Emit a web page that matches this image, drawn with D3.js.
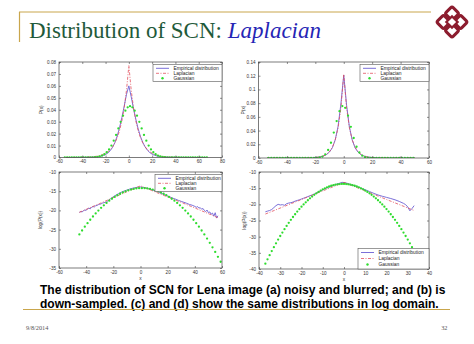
<!DOCTYPE html>
<html><head><meta charset="utf-8">
<script src="https://cdn.jsdelivr.net/npm/d3@7"></script>
<style>body{margin:0;background:#fff}svg{display:block}</style>
</head><body>
<svg id="c" width="474" height="344"></svg>
<script>
// ---------------- DATA ----------------
const titleMain = "Distribution of SCN: ";
const titleItalic = "Laplacian";
const captionLines = [
  "The distribution of SCN for Lena image (a) noisy and blurred; and (b) is",
  "down-sampled. (c) and (d) show the same distributions in log domain."
];
const footerDate = "9/8/2014";
const footerPage = "32";
const legendLabels = ["Empirical distribution", "Laplacian", "Gaussian"];

// Panel (a): linear, noisy & blurred
const aXTicks = [-60,-40,-20,0,20,40,60,80];
const aYTicks = [0,0.01,0.02,0.03,0.04,0.05,0.06,0.07,0.08];
const aX = [-54,-52,-50,-48,-46,-44,-42,-40,-38,-36,-34,-32,-30,-28,-26,-24,-22,-20,-18,-16,-14,-12,-10,-8,-6,-4,-2,0,2,4,6,8,10,12,14,16,18,20,22,24,26,28,30,32,34,36,38,40,42,44,46,48,50,52,54,56,58,60,62,64,66];
const aEmp = [0.00001,0.00002,0.00003,0.00004,0.00005,0.00007,0.00009,0.00011,0.00014,0.00018,0.00023,0.0003,0.0004,0.00056,0.0008,0.00115,0.0017,0.0025,0.0038,0.0057,0.0085,0.0125,0.018,0.025,0.0335,0.043,0.053,0.060,0.051,0.041,0.032,0.024,0.0175,0.0125,0.0088,0.006,0.0041,0.0028,0.0019,0.0013,0.0009,0.00064,0.00046,0.00035,0.00027,0.00022,0.00018,0.00015,0.00012,0.0001,0.00008,0.00007,0.00006,0.00005,0.00004,0.00003,0.00002,0.00002,0.00001,0.00001,0];
const aLap = [0.00002,0.00003,0.00004,0.00005,0.00007,0.00009,0.00012,0.00016,0.00022,0.0003,0.00041,0.00056,0.00076,0.001,0.0014,0.0019,0.0026,0.0036,0.0048,0.0066,0.0089,0.0122,0.0165,0.0225,0.0306,0.0416,0.0566,0.077,0.0566,0.0416,0.0306,0.0225,0.0165,0.0122,0.0089,0.0066,0.0048,0.0036,0.0026,0.0019,0.0014,0.001,0.00076,0.00056,0.00041,0.0003,0.00022,0.00016,0.00012,0.00009,0.00007,0.00005,0.00004,0.00003,0.00002,0.00001,0.00001,0.00001,0,0,0];
const aGX = [-55,-53,-51,-49,-47,-45,-43,-41,-39,-37,-35,-33,-31,-29,-27,-25,-23,-21,-19,-17,-15,-13,-11,-9,-7,-5,-3,-1,1,3,5,7,9,11,13,15,17,19,21,23,25,27,29,31,33,35,37,39,41,43,45,47,49,51,53,55,57,59,61,63,65,67];
const aGauss = [0,0,0,0,0,0,0,0,0,0.00001,0.00003,0.00006,0.00013,0.00026,0.00049,0.00091,0.00161,0.00273,0.0044,0.00678,0.01,0.01407,0.01892,0.02432,0.02985,0.03503,0.03925,0.04203,0.043,0.04203,0.03925,0.03503,0.02985,0.02432,0.01892,0.01407,0.01,0.00678,0.0044,0.00273,0.00161,0.00091,0.00049,0.00026,0.00013,0.00006,0.00003,0.00001,0,0,0,0,0,0,0,0,0,0,0,0,0,0];

// Panel (b): linear, down-sampled
const bXTicks = [-60,-40,-20,0,20,40,60];
const bYTicks = [0,0.02,0.04,0.06,0.08,0.1,0.12,0.14];
const bX = [-54,-52,-50,-48,-46,-44,-42,-40,-38,-36,-34,-32,-30,-28,-26,-24,-22,-20,-18,-16,-14,-12,-10,-8,-6,-4,-2,0,2,4,6,8,10,12,14,16,18,20,22,24,26,28,30,32,34,36,38,40,42,44,46,48,50];
const bEmp = [0,0,0,0,0,0,0,0,0.00001,0.00002,0.00003,0.00005,0.00008,0.00013,0.0002,0.0003,0.00047,0.00075,0.0012,0.0019,0.0031,0.0052,0.0088,0.015,0.0265,0.046,0.079,0.121,0.077,0.045,0.026,0.0148,0.0087,0.0051,0.003,0.0018,0.0011,0.0007,0.00045,0.0003,0.0002,0.00013,0.00008,0.00004,0.00002,0,0,0,0,0,0,0,0];
const bLap = [0,0,0,0,0,0,0,0,0,0.00001,0.00002,0.00004,0.00006,0.0001,0.0002,0.0003,0.0004,0.0007,0.0012,0.002,0.0034,0.0056,0.0094,0.0157,0.0262,0.0438,0.073,0.122,0.073,0.0438,0.0262,0.0157,0.0094,0.0056,0.0034,0.002,0.0012,0.0007,0.0004,0.0003,0.0002,0.0001,0.00006,0.00004,0.00002,0.00001,0,0,0,0,0,0,0];
const bGX = [-53,-51,-49,-47,-45,-43,-41,-39,-37,-35,-33,-31,-29,-27,-25,-23,-21,-19,-17,-15,-13,-11,-9,-7,-5,-3,-1,1,3,5,7,9,11,13,15,17,19,21,23,25,27,29,31,33,35,37,39,41,43,45,47,49];
const bGauss = [0,0,0,0,0,0,0,0,0,0,0,0,0,0,0,0.00001,0.00006,0.00023,0.00074,0.00213,0.00535,0.01167,0.02226,0.0371,0.0539,0.0683,0.0757,0.0731,0.0617,0.0454,0.0292,0.0164,0.00803,0.00344,0.00128,0.00042,0.00012,0.00003,0.00001,0,0,0,0,0,0,0,0,0,0,0,0,0];

// Panel (c): log domain of (a)
const cXTicks = [-60,-40,-20,0,20,40,60];
const cYTicks = [-35,-30,-25,-20,-15,-10];
const cEmpX = [-45,-44,-43,-42,-41,-40,-39,-38,-37,-36,-35,-34,-33,-32,-31,-30,-29,-28,-27,-26,-25,-24,-22,-20,-18,-16,-14,-12,-10,-8,-6,-4,-2,0,2,4,6,8,10,12,14,16,18,20,22,24,26,28,30,32,34,36,38,40,41,42,43,44,45,46,47,48,49,50,51,52,53,54,55,56,57];
const cEmp = [-20.5,-20.3,-20.4,-20.1,-19.9,-20.0,-19.6,-19.4,-19.6,-19.2,-19.0,-19.1,-18.8,-18.7,-18.5,-18.4,-18.3,-18.1,-18.0,-17.9,-17.8,-17.5,-16.95,-16.45,-16.0,-15.6,-15.25,-14.95,-14.7,-14.45,-14.25,-14.1,-13.95,-13.9,-14.0,-14.15,-14.35,-14.55,-14.8,-15.05,-15.35,-15.65,-15.95,-16.25,-16.55,-16.85,-17.1,-17.4,-17.65,-17.9,-18.15,-18.45,-18.65,-18.95,-19.2,-19.0,-19.4,-19.3,-19.7,-19.5,-20.0,-20.3,-19.9,-20.6,-20.4,-21.0,-20.7,-21.5,-20.6,-22.0,-21.4];
const cLapX = [-45,-30,-15,0,15,30,45,57];
const cLap = [-20.5,-18.2,-15.9,-13.6,-15.8,-17.9,-20.1,-21.9];
const cGX = [-45,-43,-41,-39,-37,-35,-33,-31,-29,-27,-25,-23,-21,-19,-17,-15,-13,-11,-9,-7,-5,-3,-1,1,3,5,7,9,11,13,15,17,19,21,23,25,27,29,31,33,35,37,39,41,43,45,47,49,51,53,55,57,59];
const cGauss = [-26.26,-25.24,-24.25,-23.32,-22.43,-21.59,-20.79,-20.04,-19.33,-18.67,-18.05,-17.48,-16.96,-16.48,-16.05,-15.66,-15.32,-15.02,-14.77,-14.57,-14.41,-14.29,-14.22,-14.2,-14.22,-14.29,-14.41,-14.57,-14.77,-15.02,-15.32,-15.66,-16.05,-16.48,-16.96,-17.48,-18.05,-18.67,-19.33,-20.04,-20.79,-21.59,-22.43,-23.32,-24.25,-25.24,-26.26,-27.33,-28.45,-29.61,-30.82,-32.08,-33.37];

// Panel (d): log domain of (b)
const dXTicks = [-40,-30,-20,-10,0,10,20,30,40];
const dYTicks = [-40,-35,-30,-25,-20,-15,-10];
const dEmpX = [-37,-36,-35,-34,-33,-32,-31,-30,-29,-28,-27,-26,-25,-24,-23,-22,-21,-20,-19,-18,-17,-16,-15,-14,-13,-12,-11,-10,-8,-6,-4,-2,-1,0,1,2,4,6,8,10,12,14,16,18,20,22,24,26,28,29,30,31,32,33];
const dEmp = [-22.3,-22.1,-21.9,-21.6,-21.0,-20.4,-20.0,-20.2,-20.1,-20.3,-19.8,-19.6,-19.5,-19.3,-19.0,-18.8,-18.6,-18.35,-18.1,-17.85,-17.6,-17.35,-17.1,-16.8,-16.5,-16.2,-15.85,-15.5,-14.9,-14.35,-13.9,-13.45,-13.2,-13.25,-13.4,-13.6,-14.05,-14.5,-15.0,-15.5,-16.05,-16.6,-17.1,-17.5,-17.85,-18.2,-18.6,-19.1,-19.7,-20.1,-20.8,-22.0,-21.3,-20.4];
const dLapX = [-37,-20,0,20,33];
const dLap = [-23.0,-18.5,-13.2,-18.5,-21.9];
const dGX = [-37,-36,-35,-34,-33,-32,-31,-30,-29,-28,-27,-26,-25,-24,-23,-22,-21,-20,-19,-18,-17,-16,-15,-14,-13,-12,-11,-10,-9,-8,-7,-6,-5,-4,-3,-2,-1,0,1,2,3,4,5,6,7,8,9,10,11,12,13,14,15,16,17,18,19,20,21,22,23,24,25,26,27,28,29,30,31,32,33];
const dGauss = [-38.35,-37.01,-35.72,-34.46,-33.24,-32.06,-30.91,-29.80,-28.73,-27.69,-26.69,-25.73,-24.80,-23.92,-23.07,-22.25,-21.47,-20.73,-20.03,-19.37,-18.74,-18.14,-17.59,-17.07,-16.59,-16.15,-15.74,-15.37,-15.04,-14.74,-14.48,-14.26,-14.07,-13.93,-13.82,-13.74,-13.70,-13.70,-13.74,-13.82,-13.93,-14.07,-14.26,-14.48,-14.74,-15.04,-15.37,-15.74,-16.15,-16.59,-17.07,-17.59,-18.14,-18.74,-19.37,-20.03,-20.73,-21.47,-22.25,-23.07,-23.92,-24.80,-25.73,-26.69,-27.69,-28.73,-29.80,-30.91,-32.06,-33.24,-34.46];

// ---------------- DRAWING ----------------
const C_EMP = "#6c60d4", C_LAP = "#e2505e", C_GAU = "#2edc2e";
const GOLD = "#c9a64c";
const svg = d3.select("#c");
const defs = svg.append("defs");

// slide decoration
svg.append("line").attr("x1",19).attr("x2",431).attr("y1",12).attr("y2",12).attr("stroke",GOLD).attr("stroke-width",1);
svg.append("line").attr("x1",19.5).attr("x2",19.5).attr("y1",12).attr("y2",42).attr("stroke",GOLD).attr("stroke-width",1.2);
const title = svg.append("text").attr("x",29).attr("y",37.5)
  .attr("font-family","'Liberation Serif', 'DejaVu Serif', serif").attr("font-size",23);
title.append("tspan").attr("fill","#1f5a3a").text(titleMain);
title.append("tspan").attr("fill","#2525b5").attr("font-style","italic").text(titleItalic);

// logo (stylised knot)
const logo = svg.append("g").attr("transform","translate(452,22) rotate(45)");
[[-11,-11],[1,-11],[-11,1],[1,1]].forEach(([px,py])=>{
  logo.append("rect").attr("x",px).attr("y",py).attr("width",10).attr("height",10)
    .attr("rx",2).attr("fill","none").attr("stroke","#8c1c2e").attr("stroke-width",3);
});
logo.append("rect").attr("x",-4).attr("y",-4).attr("width",8).attr("height",8).attr("fill","#fff").attr("stroke","#8c1c2e").attr("stroke-width",2.2);

function drawPanel(o){
  const x = d3.scaleLinear().domain(o.xDomain).range([o.left,o.right]);
  const y = d3.scaleLinear().domain(o.yDomain).range([o.bottom,o.top]);
  const w = o.right-o.left, h = o.bottom-o.top;
  const g = svg.append("g");
  defs.append("clipPath").attr("id","clip"+o.id).append("rect")
    .attr("x",o.left).attr("y",o.top).attr("width",w).attr("height",h);
  const plot = g.append("g").attr("clip-path",`url(#clip${o.id})`);
  const line = d3.line().x(d=>x(d[0])).y(d=>y(d[1]));
  plot.append("path").datum(d3.zip(o.empX,o.emp)).attr("d",line)
    .attr("fill","none").attr("stroke",C_EMP).attr("stroke-width",0.9);
  plot.append("path").datum(d3.zip(o.lapX,o.lap)).attr("d",line)
    .attr("fill","none").attr("stroke",C_LAP).attr("stroke-width",0.8).attr("stroke-dasharray","3,1.5,1,1.5");
  plot.selectAll("circle").data(d3.zip(o.gX,o.g)).join("circle")
    .attr("cx",d=>x(d[0])).attr("cy",d=>y(d[1])).attr("r",1.15).attr("fill",C_GAU);

  const fx = d=>String(d);
  const axes = [
    [d3.axisBottom(x).tickValues(o.xTicks).tickFormat(fx).tickPadding(2.5), `translate(0,${o.bottom})`],
    [d3.axisTop(x).tickValues(o.xTicks).tickFormat(""), `translate(0,${o.top})`],
    [d3.axisLeft(y).tickValues(o.yTicks).tickFormat(o.yFmt).tickPadding(3), `translate(${o.left},0)`],
    [d3.axisRight(y).tickValues(o.yTicks).tickFormat(""), `translate(${o.right},0)`]
  ];
  axes.forEach(([ax,tr])=>{
    const a = g.append("g").attr("transform",tr).call(ax.tickSize(-2).tickSizeOuter(0));
    a.select(".domain").remove();
    a.selectAll("line").attr("stroke","#444").attr("stroke-width",0.6);
    a.selectAll("text").attr("font-family","'Liberation Sans', Arial, sans-serif").attr("font-size",4.6).attr("fill","#333");
  });
  g.append("rect").attr("x",o.left).attr("y",o.top).attr("width",w).attr("height",h)
    .attr("fill","none").attr("stroke","#444").attr("stroke-width",0.7);

  // axis labels
  g.append("text").attr("transform",`translate(${o.yLabelX},${(o.top+o.bottom)/2}) rotate(-90)`)
    .attr("text-anchor","middle").attr("font-family","'Liberation Sans', Arial, sans-serif")
    .attr("font-size",4.8).attr("fill","#333").text(o.yLabel);
  if(o.xLabel){
    g.append("text").attr("x",(o.left+o.right)/2).attr("y",o.bottom+11.5)
      .attr("text-anchor","middle").attr("font-family","'Liberation Sans', Arial, sans-serif")
      .attr("font-size",4.8).attr("fill","#333").text(o.xLabel);
  }

  // legend
  const L = o.legend;
  const lg = g.append("g");
  lg.append("rect").attr("x",L.x).attr("y",L.y).attr("width",L.w).attr("height",L.h)
    .attr("fill","#fff").attr("stroke","#555").attr("stroke-width",0.6);
  legendLabels.forEach((lab,i)=>{
    const yy = L.y + L.first + i*L.step;
    if(i===0) lg.append("line").attr("x1",L.x+3).attr("x2",L.x+16).attr("y1",yy).attr("y2",yy).attr("stroke",C_EMP).attr("stroke-width",0.9);
    if(i===1) lg.append("line").attr("x1",L.x+3).attr("x2",L.x+16).attr("y1",yy).attr("y2",yy).attr("stroke",C_LAP).attr("stroke-width",0.8).attr("stroke-dasharray","3,1.5,1,1.5");
    if(i===2) lg.append("circle").attr("cx",L.x+9.5).attr("cy",yy).attr("r",1.2).attr("fill",C_GAU);
    lg.append("text").attr("x",L.x+20.5).attr("y",yy).attr("dy","0.35em")
      .attr("font-family","'Liberation Sans', Arial, sans-serif").attr("font-size",4.9).attr("fill","#222").text(lab);
  });
}

const fmtLin = d => d===0 ? "0" : String(+d.toFixed(2));
const fmtInt = d => String(d);

drawPanel({id:"a", left:59, right:222, top:62, bottom:157.5, xDomain:[-60,80], yDomain:[0,0.08],
  xTicks:aXTicks, yTicks:aYTicks, yFmt:fmtLin, yLabel:"P(x)", yLabelX:42.5,
  empX:aX, emp:aEmp, lapX:aX, lap:aLap, gX:aGX, g:aGauss,
  legend:{x:153, y:64.5, w:69, h:17, first:3.8, step:5}});
drawPanel({id:"b", left:258.5, right:429, top:62, bottom:158, xDomain:[-60,60], yDomain:[0,0.14],
  xTicks:bXTicks, yTicks:bYTicks, yFmt:fmtLin, yLabel:"P(x)", yLabelX:245,
  empX:bX, emp:bEmp, lapX:bX, lap:bLap, gX:bGX, g:bGauss,
  legend:{x:360, y:64.5, w:69, h:17, first:3.8, step:5}});
drawPanel({id:"c", left:59, right:222, top:172, bottom:268, xDomain:[-60,60], yDomain:[-35,-10],
  xTicks:cXTicks, yTicks:cYTicks, yFmt:fmtInt, yLabel:"log(P(x))", yLabelX:42, xLabel:"x",
  empX:cEmpX, emp:cEmp, lapX:cLapX, lap:cLap, gX:cGX, g:cGauss,
  legend:{x:155, y:174.5, w:67, h:17, first:3.8, step:5}});
drawPanel({id:"d", left:259, right:429, top:172, bottom:269, xDomain:[-40,40], yDomain:[-40,-10],
  xTicks:dXTicks, yTicks:dYTicks, yFmt:fmtInt, yLabel:"log(P(x))", yLabelX:245.5, xLabel:"x",
  empX:dEmpX, emp:dEmp, lapX:dLapX, lap:dLap, gX:dGX, g:dGauss,
  legend:{x:358, y:248.5, w:71, h:20.5, first:4, step:6}});

// caption
captionLines.forEach((t,i)=>{
  svg.append("text").attr("x",40).attr("y",294+i*13.5)
    .attr("font-family","'Liberation Sans', Arial, sans-serif").attr("font-weight","bold")
    .attr("font-size",12).attr("fill","#000").text(t);
});
svg.append("line").attr("x1",23).attr("x2",450).attr("y1",309.5).attr("y2",309.5).attr("stroke",GOLD).attr("stroke-width",1);

// footer
svg.append("text").attr("x",26).attr("y",330).attr("font-family","'Liberation Serif', serif")
  .attr("font-size",6.3).attr("fill","#555").text(footerDate);
svg.append("text").attr("x",447.5).attr("y",330).attr("text-anchor","end").attr("font-family","'Liberation Serif', serif")
  .attr("font-size",6.3).attr("fill","#555").text(footerPage);
</script>
</body></html>
